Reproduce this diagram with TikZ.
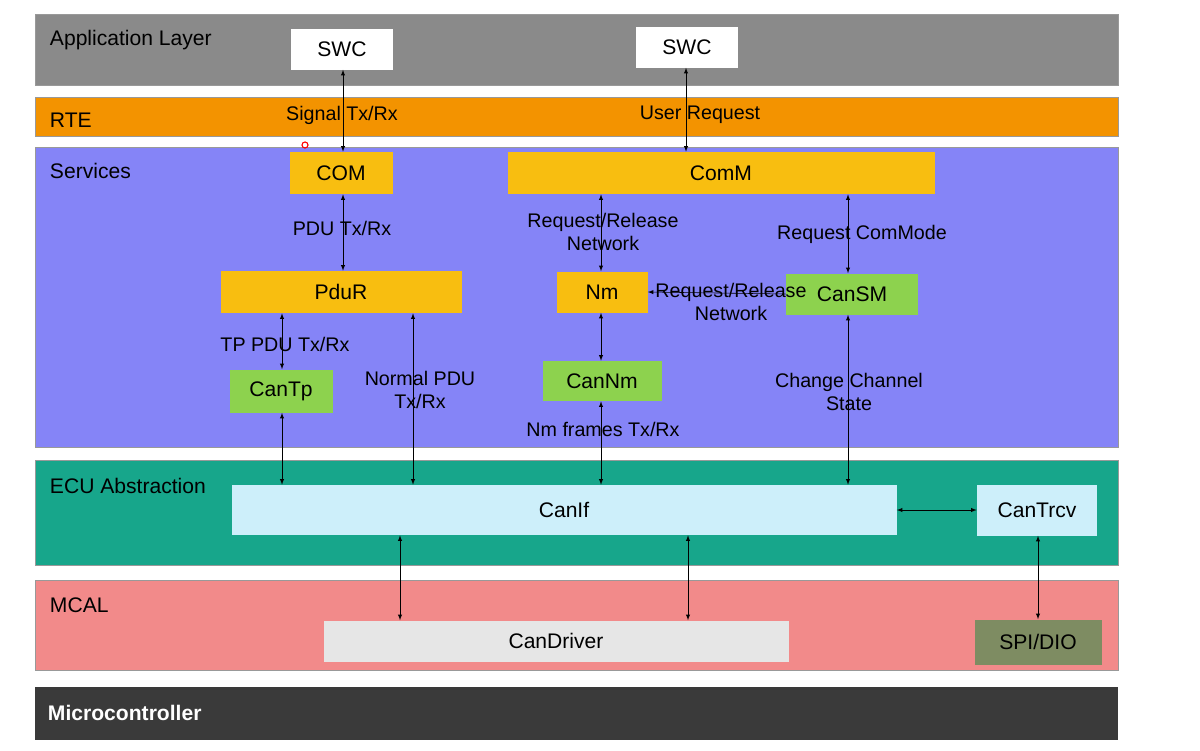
\documentclass[tikz,border=0pt]{standalone}
\usepackage{fontspec}
\setmainfont{Liberation Sans}
\definecolor{appgray}{HTML}{8A8A8A}
\definecolor{rteor}{HTML}{F39300}
\definecolor{servbl}{HTML}{8584F7}
\definecolor{ecuteal}{HTML}{17A68B}
\definecolor{mcalpk}{HTML}{F28A8A}
\definecolor{mcdark}{HTML}{3A3A3A}
\definecolor{boxyel}{HTML}{F8BE10}
\definecolor{boxgrn}{HTML}{8DD24E}
\definecolor{boxcyan}{HTML}{CDEFFA}
\definecolor{boxgry}{HTML}{E6E6E6}
\definecolor{spigrn}{HTML}{7E8C62}
\begin{document}
\begin{tikzpicture}[x=0.025cm,y=-0.025cm,
  layer/.style={fill=#1,draw=black!40,line width=0.4pt},
  ltxt/.style={anchor=west,font=\fontsize{15}{17}\selectfont},
  box/.style={fill=#1,draw=none,font=\fontsize{15}{17}\selectfont},
  lbl/.style={font=\fontsize{14}{16}\selectfont,align=center,inner sep=1pt},
  arr/.style={<->,>=latex,thin}]
\useasboundingbox (0,0) rectangle (1200,750);
\fill[white] (0,0) rectangle (1200,750);
% layers
\draw[layer=appgray] (35,14) rectangle (1118,85);
\draw[layer=rteor] (35,97) rectangle (1118,136);
\draw[layer=servbl] (35,147) rectangle (1118,447);
\draw[layer=ecuteal] (35,460) rectangle (1118,565);
\draw[layer=mcalpk] (35,580) rectangle (1118,670);
\fill[mcdark] (35,687) rectangle (1118,740);
\node[ltxt] (lapp) at (45,40) {Application Layer};
\node[ltxt] (lrte) at (45,120) {RTE};
\node[ltxt] (lsrv) at (45,171) {Services};
\node[ltxt] (lecu) at (45,486) {ECU Abstraction};
\node[ltxt] (lmcal) at (45,605) {MCAL};
\node[ltxt,text=white,font=\fontsize{15}{17}\selectfont\bfseries] (lmc) at (43,713) {Microcontroller};
% boxes
\node[box=white,minimum width=102*0.025cm,minimum height=41*0.025cm] (swc1) at (342,49) {SWC};
\node[box=white,minimum width=102*0.025cm,minimum height=41*0.025cm] (swc2) at (687,47) {SWC};
\node[box=boxyel,minimum width=103*0.025cm,minimum height=42*0.025cm] (com) at (341,173) {COM};
\node[box=boxyel,minimum width=427*0.025cm,minimum height=42*0.025cm] (comm) at (721,173) {ComM};
\node[box=boxyel,minimum width=241*0.025cm,minimum height=42*0.025cm] (pdur) at (341,292) {PduR};
\node[box=boxyel,minimum width=91*0.025cm,minimum height=41*0.025cm] (nm) at (602,292) {Nm};
\node[box=boxgrn,minimum width=132*0.025cm,minimum height=41*0.025cm] (cansm) at (852,294) {CanSM};
\node[box=boxgrn,minimum width=103*0.025cm,minimum height=43*0.025cm] (cantp) at (281,391) {CanTp};
\node[box=boxgrn,minimum width=119*0.025cm,minimum height=40*0.025cm] (cannm) at (602,381) {CanNm};
\node[box=boxcyan,minimum width=665*0.025cm,minimum height=50*0.025cm] (canif) at (564,510) {CanIf};
\node[box=boxcyan,minimum width=120*0.025cm,minimum height=51*0.025cm] (cantrcv) at (1037,510) {CanTrcv};
\node[box=boxgry,minimum width=465*0.025cm,minimum height=41*0.025cm] (candrv) at (556,641) {CanDriver};
\node[box=spigrn,minimum width=127*0.025cm,minimum height=45*0.025cm] (spi) at (1038,642) {SPI/DIO};
\draw[red,thick] (305,145) circle[radius=3];
% connectors
\draw[arr] (swc1.south -| 343,0) -- (com.north -| 343,0);
\draw[arr] (swc2.south -| 686,0) -- (comm.north -| 686,0);
\draw[arr] (com.south -| 343,0) -- (pdur.north -| 343,0);
\draw[arr] (comm.south -| 601,0) -- (nm.north -| 601,0);
\draw[arr] (comm.south -| 848,0) -- (cansm.north -| 848,0);
\draw[->,>=latex,thin] (cansm.west) -- (nm.east);
\draw[arr] (nm.south -| 601,0) -- (cannm.north -| 601,0);
\draw[arr] (pdur.south -| 282,0) -- (cantp.north -| 282,0);
\draw[arr] (cantp.south -| 282,0) -- (canif.north -| 282,0);
\draw[arr] (pdur.south -| 413,0) -- (canif.north -| 413,0);
\draw[arr] (cannm.south -| 601,0) -- (canif.north -| 601,0);
\draw[arr] (cansm.south -| 848,0) -- (canif.north -| 848,0);
\draw[arr] (canif.east) -- (cantrcv.west);
\draw[arr] (canif.south -| 400,0) -- (candrv.north -| 400,0);
\draw[arr] (canif.south -| 688,0) -- (candrv.north -| 688,0);
\draw[arr] (cantrcv.south -| 1038,0) -- (spi.north -| 1038,0);
% labels
\node[lbl] (t1) at (342,115) {Signal Tx/Rx};
\node[lbl] (t2) at (700,115) {User Request};
\node[lbl] (t3) at (342,228) {PDU Tx/Rx};
\node[lbl] (t4) at (603,232) {Request/Release\\Network};
\node[lbl] (t5) at (862,234) {Request ComMode};
\node[lbl] (t6) at (731,302) {Request/Release\\Network};
\node[lbl] (t7) at (285,344) {TP PDU Tx/Rx};
\node[lbl] (t8) at (420,390) {Normal PDU\\Tx/Rx};
\node[lbl] (t9) at (849,392) {Change Channel\\State};
\node[lbl] (t10) at (603,429) {Nm frames Tx/Rx};
\end{tikzpicture}
\end{document}
